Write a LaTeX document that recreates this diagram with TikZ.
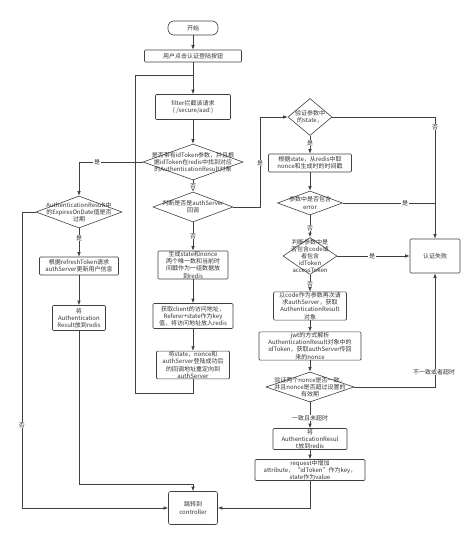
\documentclass[tikz,border=0pt]{standalone}
\usepackage{fontspec}
\setmainfont{Noto Sans CJK SC}
\usetikzlibrary{arrows.meta,shapes.geometric}

\begin{document}
\begin{tikzpicture}[
    x=1pt, y=-1pt,
    font=\fontsize{6}{7.2}\selectfont,
    every node/.style={text=black!80},
    box/.style 2 args={draw=black!75, line width=0.6pt, rounded corners=1pt, align=center, minimum width=#1, minimum height=#2, inner sep=0.5pt, fill=white},
    dec/.style 2 args={draw=black!75, line width=0.6pt, diamond, minimum width=#1, minimum height=#2, inner sep=0pt},
    txt/.style={align=center, inner sep=0pt},
    lbl/.style={fill=white, inner sep=0.6pt},
    flow/.style={draw=black!75, line width=0.6pt},
    arrow/.style={flow, -{Latex[length=4.5pt, width=3.5pt]}}
  ]
  \useasboundingbox (0,0) rectangle (474,541);

  % middle column
  \node[box={50pt}{14pt}, rounded corners=6pt] (start) at (193,28) {开始};
  \node[box={97pt}{12pt}] (click) at (193,56) {用户点击认证登陆按钮};
  \node[box={75pt}{25pt}] (filter) at (193,107) {filter拦截该请求\\( /secure/aad )};
  \node[dec={100pt}{36pt}, label={[txt]center:{是否带有idToken参数，并且根\\据idToken在redis中找到对应\\的AuthenticationResult对象}}] (hasToken) at (193,162) {};
  \node[dec={80pt}{30pt}, label={[txt]center:{判断是否是authServer\\回调}}] (isCallback) at (193,207) {};
  \node[box={70pt}{26pt}] (genState) at (193,265) {生成state和nonce\\两个唯一数和当前时\\间戳作为一组数据放\\到redis};
  \node[box={80pt}{25pt}] (saveClient) at (193,316) {获取client的访问地址，\\Referer+state作为key\\值，将访问地址放入redis};
  \node[box={73pt}{26pt}] (redirect) at (193,365) {将state，nonce和\\authServer登陆成功后\\的回调地址重定向到\\authServer};
  \node[box={49pt}{33pt}, rounded corners=2pt] (controller) at (193,508) {跳转到\\controller};

  % left column
  \node[dec={86pt}{32pt}, label={[txt]center:{AuthenticationResult中\\的ExpiresOnDate值是否\\过期}}] (expired) at (79,212) {};
  \node[box={79pt}{18pt}] (refresh) at (79,266) {根据refreshToken请求\\authServer更新用户信息};
  \node[box={53pt}{25pt}] (saveResult) at (79,318) {将\\Authentication\\Result放到redis};

  % right column
  \node[dec={44pt}{37pt}, label={[txt]center:{验证参数中\\的state，}}] (checkState) at (310,117) {};
  \node[box={83pt}{18pt}] (getNonce) at (310,163) {根据state，从redis中取\\nonce和生成时的时间戳};
  \node[dec={65pt}{24pt}, label={[txt]center:{参数中是否包含\\error}}] (hasError) at (310,203) {};
  \node[dec={54pt}{37pt}, label={[txt]center:{判断参数中是\\否包含code或\\者包含\\idToken\\accessToken}}] (hasCode) at (310,256) {};
  \node[box={50pt}{34pt}] (fail) at (435,256) {认证失败};
  \node[box={73pt}{27pt}] (fetchResult) at (310,306) {以code作为参数再次请\\求authServer，获取\\AuthenticationResult\\对象};
  \node[box={102pt}{23pt}] (parseJwt) at (310,346) {jwt的方式解析\\AuthenticationResult对象中的\\idToken，获取authServer传回\\来的nonce};
  \node[dec={88pt}{30pt}, label={[txt]center:{验证两个nonce是否一致，\\并且nonce是否超过设置的\\有效期}}] (checkNonce) at (310,387) {};
  \node[box={74pt}{17pt}] (saveAuth) at (310,439) {将\\AuthenticationResul\\t放到redis};
  \node[box={110pt}{20pt}] (addAttr) at (310,470) {request中增加\\attribute，“idToken”作为key，\\state作为value};

  \coordinate (join) at (135,75);
  \coordinate (back) at (135,393);
  \coordinate (leftRail) at (22,212);
  \coordinate (midRail) at (260,207);
  \coordinate (merge) at (193,484);

  \draw[arrow] (start) -- (click);
  \draw[arrow] (click) -- (filter);
  \draw[arrow] (filter) -- (hasToken);
  \draw[arrow] (hasToken) -- (isCallback);
  \draw[arrow] (hasToken.west) -| (expired.north);
  \draw[arrow] (expired.west) -- (leftRail) |- (controller.west);
  \draw[arrow] (expired) -- (refresh);
  \draw[arrow] (refresh) -- (saveResult);
  \draw[arrow] (saveResult) |- (merge) -- (controller);
  \draw[arrow] (isCallback) -- (genState);
  \draw[arrow] (isCallback.east) -- (midRail) |- (checkState.west);
  \draw[arrow] (genState) -- (saveClient);
  \draw[arrow] (saveClient) -- (redirect);
  \draw[flow] (redirect) |- (back) -- (join) -- (join -| click.south);

  \draw[arrow] (checkState) -- (getNonce);
  \draw[arrow] (checkState.east) -| (fail.north);
  \draw[arrow] (getNonce) -- (hasError);
  \draw[flow] (hasError.east) -- (hasError.east -| fail.north);
  \draw[arrow] (hasError) -- (hasCode);
  \draw[arrow] (hasCode.east) -- (fail.west);
  \draw[arrow] (hasCode) -- (fetchResult);
  \draw[arrow] (fetchResult) -- (parseJwt);
  \draw[arrow] (parseJwt) -- (checkNonce);
  \draw[arrow] (checkNonce.east) -| (fail.south);
  \draw[arrow] (checkNonce) -- (saveAuth);
  \draw[arrow] (saveAuth) -- (addAttr);
  \draw[arrow] (addAttr) |- (controller.east);

  % branch labels
  \node[lbl] (yesToken) at (97,162) {是};
  \node[lbl] (noToken) at (193,186) {否};
  \node[lbl] (noExp) at (22,425) {否};
  \node[lbl] (yesExp) at (79,238) {是};
  \node[lbl] (noCb) at (193,236) {否};
  \node[lbl] (yesCb) at (260,163) {是};
  \node[lbl] (yesState) at (310,143) {是};
  \node[lbl] (noState) at (435,127) {否};
  \node[lbl] (yesErr) at (405,203) {是};
  \node[lbl] (noErr) at (310,228) {否};
  \node[lbl] (yesCode) at (372,256) {是};
  \node[lbl] (noCode) at (310,284) {否};
  \node[lbl] (badNonce) at (434,372) {不一致或者超时};
  \node[lbl] (okNonce) at (310,418) {一致且未超时};
\end{tikzpicture}
\end{document}
